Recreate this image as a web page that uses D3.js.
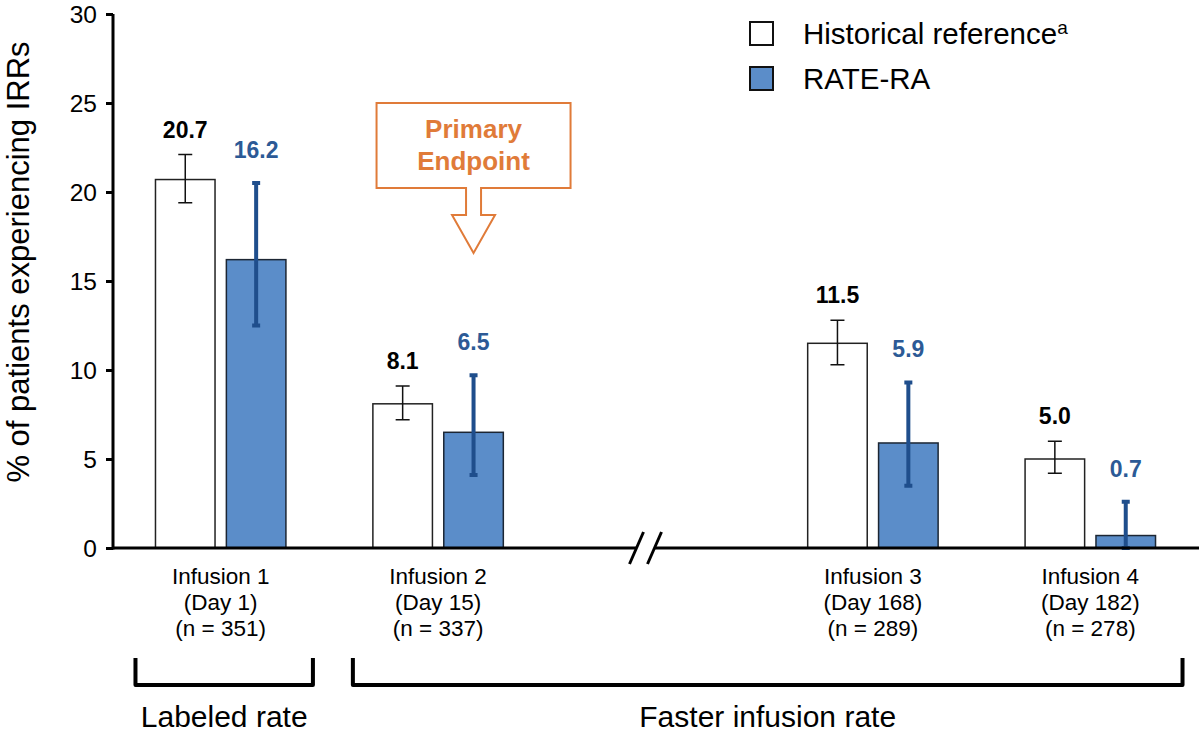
<!DOCTYPE html>
<html>
<head>
<meta charset="utf-8">
<script src="https://cdn.jsdelivr.net/npm/d3@7"></script>
<style>
  body { margin: 0; background: #fff; }
  svg { font-family: "Liberation Sans", Arial, sans-serif; }
</style>
</head>
<body>
<svg id="chart"></svg>
<script>
// values
var categories = ["Infusion 1", "Infusion 2", "Infusion 3", "Infusion 4"];
var days = ["(Day 1)", "(Day 15)", "(Day 168)", "(Day 182)"];
var counts = ["(n = 351)", "(n = 337)", "(n = 289)", "(n = 278)"];

var histVals = [20.7, 8.1, 11.5, 5.0];
var histLo = [19.4, 7.2, 10.3, 4.2];
var histHi = [22.1, 9.1, 12.8, 6.0];

var rateVals = [16.2, 6.5, 5.9, 0.7];
var rateLo = [12.5, 4.1, 3.5, 0.0];
var rateHi = [20.5, 9.7, 9.3, 2.6];

var yTicks = [0, 5, 10, 15, 20, 25, 30];
var seriesNames = ["Historical reference", "RATE-RA"];

var width = 1200;
var height = 737;

var blueFill = "#5b8dc9";
var blueDark = "#1f4e8c";
var blueText = "#2c5a96";
var orange = "#e07b39";

var svg = d3.select("svg#chart")
    .attr("width", width)
    .attr("height", height);

// slots: the empty "break" slot holds the axis break
var slots = ["Infusion 1", "Infusion 2", "break", "Infusion 3", "Infusion 4"];

var x = d3.scaleBand()
    .domain(slots)
    .range([112, 1199])
    .paddingInner(0.4)
    .paddingOuter(0.2);

var x1 = d3.scaleBand()
    .domain(["hist", "rate"])
    .range([0, x.bandwidth()])
    .paddingInner(0.16);

var y = d3.scaleLinear()
    .domain([0, 30])
    .range([548, 14]);

var rows = categories.map(function(c, i) {
    return {
        cat: c, day: days[i], n: counts[i],
        hist: histVals[i], hLo: histLo[i], hHi: histHi[i],
        rate: rateVals[i], rLo: rateLo[i], rHi: rateHi[i]
    };
});

// y axis
var yAxis = d3.axisLeft(y)
    .tickValues(yTicks)
    .tickSize(7)
    .tickPadding(9)
    .tickFormat(d3.format("d"));

var yg = svg.append("g")
    .attr("transform", "translate(" + 113 + ",0)")
    .call(yAxis);
yg.select(".domain").attr("stroke", "#000").attr("stroke-width", 3)
    .attr("d", "M0," + y(30) + "V" + (y(0) + 1.5));
yg.selectAll(".tick line").attr("stroke", "#000").attr("stroke-width", 3);
yg.selectAll(".tick text")
    .attr("fill", "#000")
    .attr("dy", "0.35em")
    .style("font-size", "24.5px")
    .style("font-family", "'Liberation Sans', Arial, sans-serif");

svg.append("text")
    .attr("transform", "translate(29," + 262 + ") rotate(-90)")
    .attr("text-anchor", "middle")
    .style("font-size", "31px")
    .text("% of patients experiencing IRRs");

// bars
var groups = svg.selectAll("g.group")
    .data(rows)
    .enter()
    .append("g")
    .attr("class", "group")
    .attr("transform", function(d) { return "translate(" + x(d.cat) + ",0)"; });

groups.append("rect")
    .attr("x", x1("hist"))
    .attr("y", function(d) { return y(d.hist); })
    .attr("width", x1.bandwidth())
    .attr("height", function(d) { return y(0) - y(d.hist); })
    .attr("fill", "#fff")
    .attr("stroke", "#222")
    .attr("stroke-width", 1.5);

groups.append("rect")
    .attr("x", x1("rate"))
    .attr("y", function(d) { return y(d.rate); })
    .attr("width", x1.bandwidth())
    .attr("height", function(d) { return y(0) - y(d.rate); })
    .attr("fill", blueFill)
    .attr("stroke", "#1c2633")
    .attr("stroke-width", 1.5);

// error bars - historical (thin black)
var hc = x1("hist") + x1.bandwidth() / 2;
groups.append("path")
    .attr("d", function(d) {
        return "M" + hc + "," + y(d.hHi) + "V" + y(d.hLo) +
            "M" + (hc - 7) + "," + y(d.hHi) + "H" + (hc + 7) +
            "M" + (hc - 7) + "," + y(d.hLo) + "H" + (hc + 7);
    })
    .attr("fill", "none")
    .attr("stroke", "#111")
    .attr("stroke-width", 1.5);

// error bars - RATE-RA (thick blue)
var rc = x1("rate") + x1.bandwidth() / 2;
groups.append("path")
    .attr("d", function(d) {
        return "M" + rc + "," + y(d.rHi) + "V" + y(d.rLo) +
            "M" + (rc - 4) + "," + y(d.rHi) + "H" + (rc + 4) +
            "M" + (rc - 4) + "," + y(d.rLo) + "H" + (rc + 4);
    })
    .attr("fill", "none")
    .attr("stroke", blueDark)
    .attr("stroke-width", 4);

// value labels
groups.append("text")
    .attr("x", hc)
    .attr("y", function(d) { return y(d.hHi) - 17; })
    .attr("text-anchor", "middle")
    .style("font-size", "23px")
    .style("font-weight", "bold")
    .attr("fill", "#000")
    .text(function(d) { return d.hist.toFixed(1); });

groups.append("text")
    .attr("x", rc)
    .attr("y", function(d) { return y(d.rHi) - 25; })
    .attr("text-anchor", "middle")
    .style("font-size", "23px")
    .style("font-weight", "bold")
    .attr("fill", blueText)
    .text(function(d) { return d.rate.toFixed(1); });

// category labels
var labels = groups.append("text")
    .attr("text-anchor", "middle")
    .style("font-size", "22.5px")
    .attr("fill", "#000");
labels.append("tspan").attr("x", x.bandwidth() / 2).attr("y", 584).text(function(d) { return d.cat; });
labels.append("tspan").attr("x", x.bandwidth() / 2).attr("y", 610).text(function(d) { return d.day; });
labels.append("tspan").attr("x", x.bandwidth() / 2).attr("y", 636).text(function(d) { return d.n; });

// x axis line with break
var bx = x("break") + x.bandwidth() / 2 - 10;
svg.append("path")
    .attr("d", "M" + 113 + "," + y(0) + "H" + (bx - 9) + "M" + (bx + 9) + "," + y(0) + "H" + 1199)
    .attr("stroke", "#000")
    .attr("stroke-width", 3);
[-9, 9].forEach(function(o) {
    svg.append("line")
        .attr("x1", bx + o + 7).attr("y1", y(0) - 16)
        .attr("x2", bx + o - 7).attr("y2", y(0) + 16)
        .attr("stroke", "#000")
        .attr("stroke-width", 3);
});

// brackets under the categories
var brackets = [
    { from: "Infusion 1", to: "Infusion 1", label: "Labeled rate" },
    { from: "Infusion 2", to: "Infusion 4", label: "Faster infusion rate" }
];
brackets.forEach(function(b) {
    var x0 = x(b.from) - 20;
    var xe = x(b.to) + x.bandwidth() + 27;
    svg.append("path")
        .attr("d", "M" + x0 + ",658V685H" + xe + "V658")
        .attr("fill", "none")
        .attr("stroke", "#000")
        .attr("stroke-width", 4)
        .attr("stroke-linejoin", "round");
    svg.append("text")
        .attr("x", (x0 + xe) / 2)
        .attr("y", 727)
        .attr("text-anchor", "middle")
        .style("font-size", "30px")
        .attr("fill", "#000")
        .text(b.label);
});

// primary endpoint callout, pointing at the RATE-RA bar of infusion 2
var cx = x("Infusion 2") + rc;
var callout = svg.append("g").attr("transform", "translate(" + cx + ",0)");
callout.append("path")
    .attr("d", "M-97,103H97V188H7.5V215H21.5L0,253L-21.5,215H-7.5V188H-97Z")
    .attr("fill", "#fff")
    .attr("stroke", orange)
    .attr("stroke-width", 2);
callout.append("text")
    .attr("text-anchor", "middle")
    .style("font-size", "26px")
    .style("font-weight", "bold")
    .attr("fill", orange)
    .selectAll("tspan")
    .data(["Primary", "Endpoint"])
    .enter()
    .append("tspan")
    .attr("x", 0)
    .attr("y", function(d, i) { return 138 + i * 32; })
    .text(function(d) { return d; });

// legend
var legend = svg.append("g").attr("transform", "translate(750,22)");
var fills = ["#fff", blueFill];
seriesNames.forEach(function(name, i) {
    var row = legend.append("g").attr("transform", "translate(0," + (i * 45) + ")");
    row.append("rect")
        .attr("width", 23).attr("height", 23)
        .attr("fill", fills[i])
        .attr("stroke", "#111")
        .attr("stroke-width", 2);
    var t = row.append("text")
        .attr("x", 53)
        .attr("y", 22)
        .style("font-size", "29.5px")
        .attr("fill", "#000")
        .text(name);
    if (i === 0) {
        t.append("tspan")
            .attr("dy", -10)
            .style("font-size", "19px")
            .text("a");
    }
});
</script>
</body>
</html>
